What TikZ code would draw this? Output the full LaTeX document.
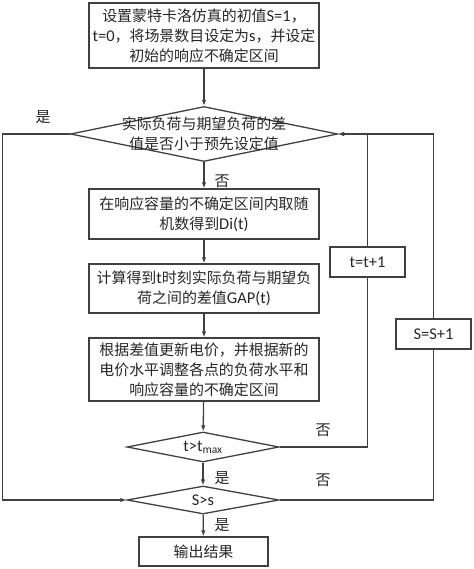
\documentclass[tikz,border=0pt]{standalone}
\usepackage{fontspec}
\setmainfont{Noto Sans CJK SC}
\newfontfamily\lat{Carlito}[Scale=1.1]
\usetikzlibrary{shapes.geometric}
\usetikzlibrary{arrows.meta}

\begin{document}
\begin{tikzpicture}[x=1bp, y=-1bp, line width=1.3bp, >={Latex[length=6bp,width=4.5bp]},
	every node/.style={font=\fontsize{15}{20}\selectfont, text=black!85},
	box/.style={draw=black!75, rectangle, inner sep=0pt, align=center, minimum width=230bp},
	dia/.style={draw=black!75, diamond, inner sep=0pt},
	txt/.style={align=center, inner sep=0pt}]
	\useasboundingbox (0,0) rectangle (474,569);
	% main column
	\node[box, minimum height=65bp](init) at (204,35.5){设置蒙特卡洛仿真的初值{\lat S=1}，\\{\lat t=0}，将场景数目设定为{\lat s}，并设定\\初始的响应不确定区间};
	\node[dia, minimum width=267bp, minimum height=55bp](check) at (204,134){};
	\node[txt](checktxt) at (check){实际负荷与期望负荷的差\\值是否小于预先设定值};
	\node[box, minimum height=50bp](rand) at (204,214){在响应容量的不确定区间内取随\\机数得到{\lat Di(t)}};
	\node[box, minimum height=49bp](gap) at (204,288.5){计算得到{\lat t}时刻实际负荷与期望负\\荷之间的差值{\lat GAP(t)}};
	\node[box, minimum height=63bp](price) at (204,369.5){根据差值更新电价，并根据新的\\电价水平调整各点的负荷水平和\\响应容量的不确定区间};
	\node[dia, minimum width=152bp, minimum height=30bp](tmax) at (203,447){};
	\node[txt](tmaxtxt) at (tmax){\lat t>t\textsubscript{max}};
	\node[dia, minimum width=152bp, minimum height=28bp](smax) at (203,500){};
	\node[txt](smaxtxt) at (smax){\lat S>s};
	\node[box, minimum width=129bp, minimum height=29bp](out) at (203.5,551.5){输出结果};
	% loop boxes
	\node[box, minimum width=75bp, minimum height=30bp](tinc) at (367.5,262){\lat t=t+1};
	\node[box, minimum width=75bp, minimum height=30bp](sinc) at (433.5,334){\lat S=S+1};
	% labels
	\node(yes1) at (43,117){是};
	\node(no1) at (222,181){否};
	\node(no2) at (323,430){否};
	\node(yes2) at (222,478){是};
	\node(no3) at (323,480){否};
	\node(yes3) at (222,525){是};
	\begin{scope}[draw=black!75]
	\draw[->] (init) -- (check);
	\draw[->] (check) -- (rand);
	\draw[->] (rand) -- (gap);
	\draw[->] (gap) -- (price);
	\draw[->] (price) -- (tmax);
	\draw[->] (tmax) -- (smax);
	\draw[->] (smax) -- (out);
	\draw[->] (check.west) -- ++(-67,0) |- (smax.west);
	\draw (tmax.east) -| (tinc.south);
	\draw[->] (tinc.north) |- (check.east);
	\draw (smax.east) -| (sinc.south);
	\draw[->] (sinc.north) |- (check.east);
	\end{scope}
\end{tikzpicture}
\end{document}
